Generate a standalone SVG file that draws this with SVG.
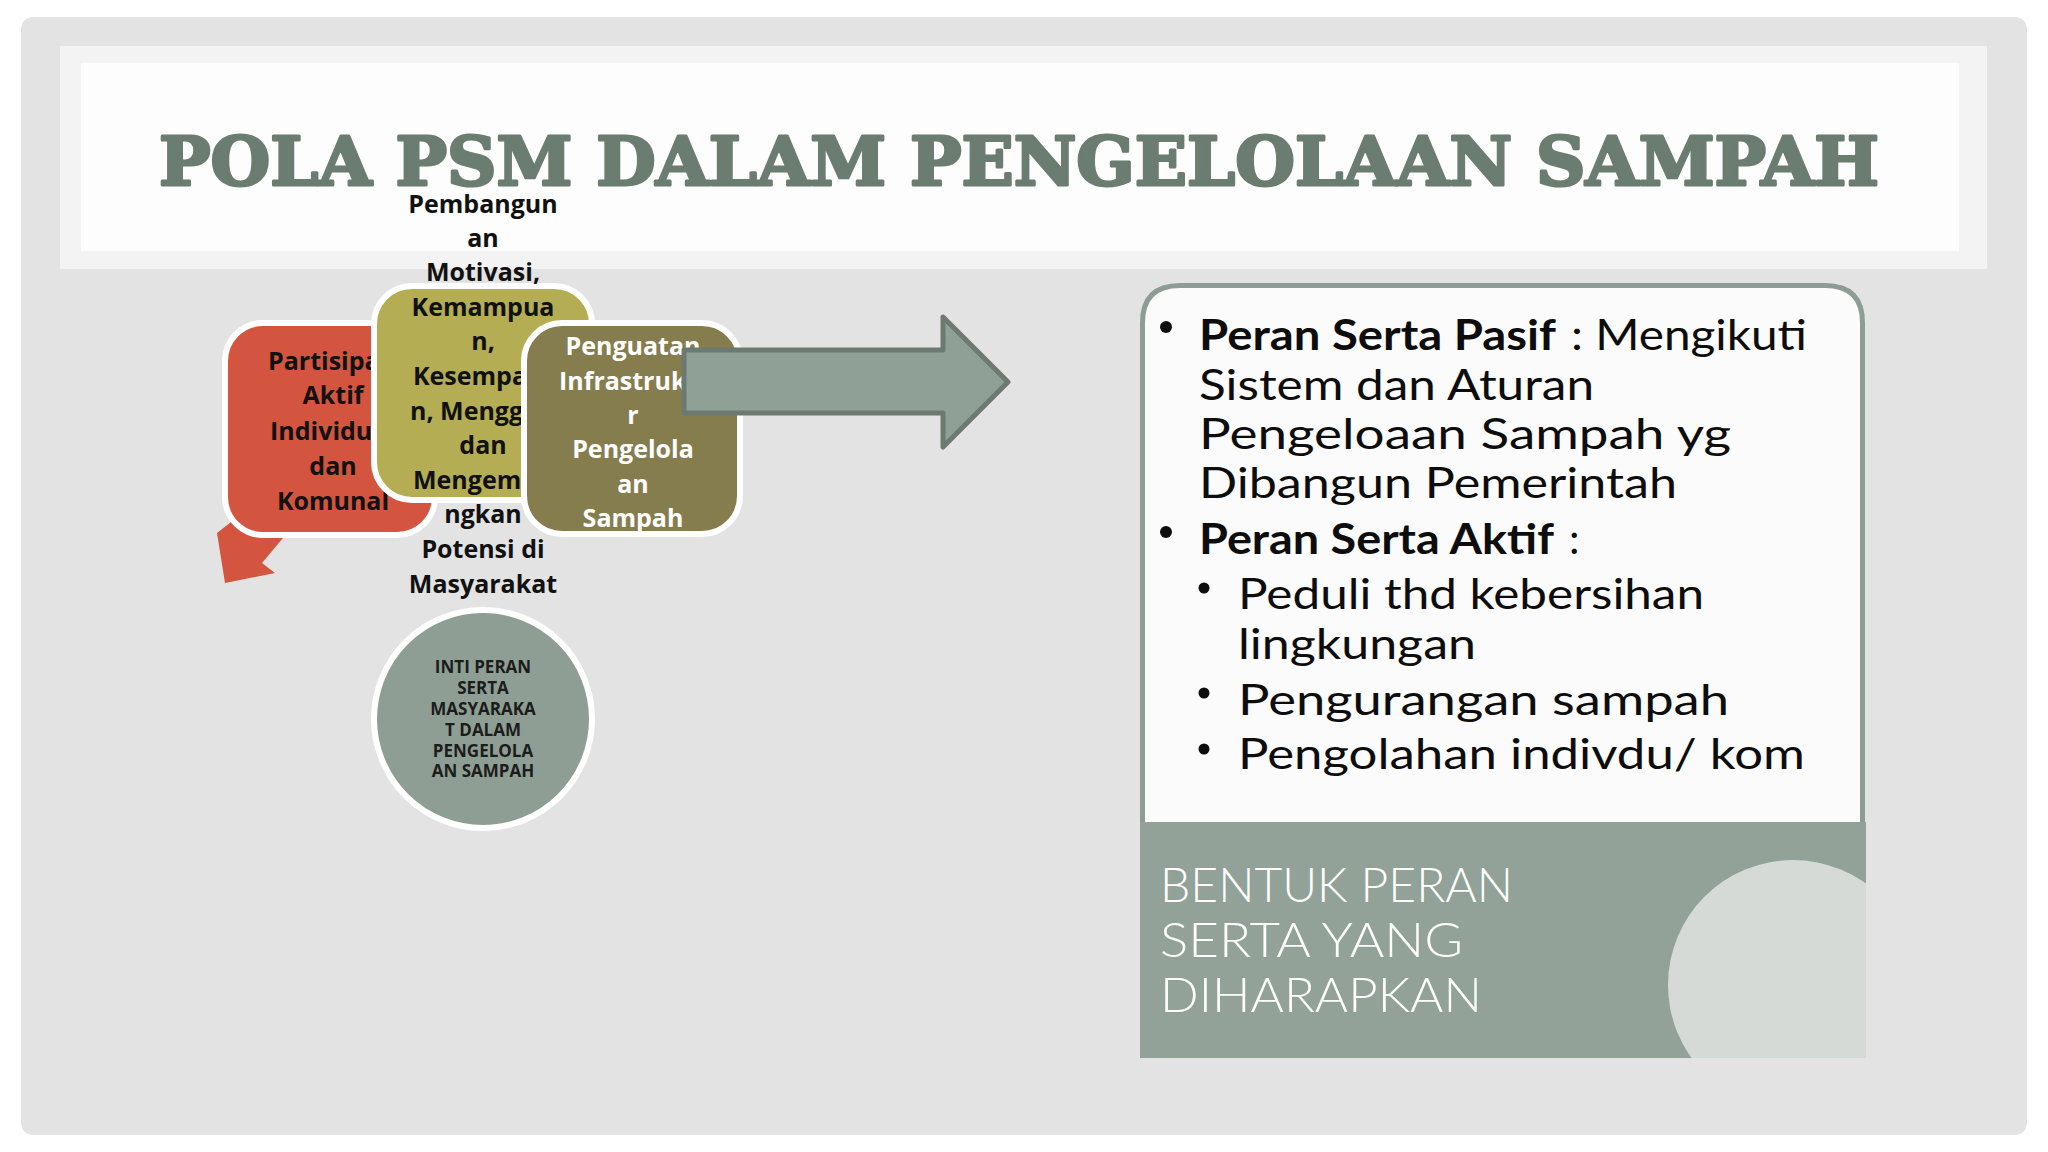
<svg xmlns="http://www.w3.org/2000/svg" width="2048" height="1152" viewBox="0 0 2048 1152">
  <style>
    .box { stroke: #ffffff; stroke-width: 6; }
    .lbl { font-family: "Open Sans", "Noto Sans", sans-serif; font-weight: 700; font-size: 25px; }
    .dark { fill: #111111; }
    .light { fill: #ffffff; }
    .circ { font-family: "Open Sans", "Noto Sans", sans-serif; font-weight: 700; font-size: 17px; fill: #1c1c1c; text-anchor: middle; }
    .body { font-family: "Lato", "Noto Sans", sans-serif; font-size: 42px; fill: #0d0d0d; }
    .bold { font-weight: 700; }
    .band { font-family: "Lato", "Noto Sans", sans-serif; font-weight: 300; font-size: 48px; fill: #ffffff; }
  </style>
  <defs>
    <mask id="redMask" maskUnits="userSpaceOnUse" x="0" y="0" width="2048" height="1152">
      <rect x="0" y="0" width="2048" height="1152" fill="#fff"/>
      <rect x="222" y="320" width="216" height="218" rx="41" fill="#000"/>
    </mask>
    <clipPath id="bandClip">
      <rect x="1140" y="822" width="726" height="236"/>
    </clipPath>
  </defs>

  <!-- background -->
  <rect x="0" y="0" width="2048" height="1152" fill="#ffffff"/>
  <rect x="21" y="17" width="2006" height="1118" rx="12" fill="#e3e3e3"/>
  <g id="header">
    <rect x="60" y="46" width="1927" height="223" fill="#f3f3f3"/>
    <rect x="81" y="63" width="1878" height="188" fill="#fdfdfd"/>
    <text x="159" y="185" font-family="'DejaVu Serif', 'Liberation Serif', serif" font-weight="700" font-size="68" fill="#6b7c71" stroke="#6b7c71" stroke-width="3" stroke-linejoin="round" textLength="1720" lengthAdjust="spacingAndGlyphs">POLA PSM DALAM PENGELOLAAN SAMPAH</text>
  </g>

  <g id="node-partisipasi">
    <rect class="box" x="225" y="323" width="210" height="212" rx="38" fill="#d3543f"/>
    <text class="lbl dark" x="268" y="370">Partisipa</text>
    <text class="lbl dark" x="333" y="404" text-anchor="middle">Aktif</text>
    <text class="lbl dark" x="270" y="440">Individu</text>
    <text class="lbl dark" x="333" y="475" text-anchor="middle">dan</text>
    <text class="lbl dark" x="333" y="510" text-anchor="middle">Komunal</text>
  </g>

  <g id="node-pembangunan">
    <rect class="box" x="374" y="286" width="218" height="214" rx="38" fill="#b4ad53"/>
    <g class="lbl dark" text-anchor="middle">
      <text x="483" y="213">Pembangun</text>
      <text x="483" y="247">an</text>
      <text x="483" y="281">Motivasi,</text>
      <text x="483" y="316">Kemampua</text>
      <text x="483" y="350">n,</text>
      <text x="483" y="454">dan</text>
      <text x="483" y="523">ngkan</text>
      <text x="483" y="558">Potensi di</text>
      <text x="483" y="593">Masyarakat</text>
    </g>
    <text class="lbl dark" x="413" y="385">Kesempa</text>
    <text class="lbl dark" x="410" y="420">n, Mengg</text>
    <text class="lbl dark" x="413" y="489">Mengem</text>
  </g>

  <g id="node-penguatan">
    <rect class="box" x="524" y="323" width="216" height="211" rx="38" fill="#867d4f"/>
    <g class="lbl light" text-anchor="middle">
      <text x="633" y="355">Penguatan</text>
      <text x="633" y="424">r</text>
      <text x="633" y="458">Pengelola</text>
      <text x="633" y="493">an</text>
      <text x="633" y="527">Sampah</text>
    </g>
    <text class="lbl light" x="559" y="390">Infrastruk</text>
  </g>

  <g id="node-inti">
    <circle cx="483" cy="719" r="109" fill="#8f9e95" stroke="#ffffff" stroke-width="6"/>
    <text class="circ" x="483" y="673">INTI PERAN</text>
    <text class="circ" x="483" y="694">SERTA</text>
    <text class="circ" x="483" y="715">MASYARAKA</text>
    <text class="circ" x="483" y="736">T DALAM</text>
    <text class="circ" x="483" y="757">PENGELOLA</text>
    <text class="circ" x="483" y="777">AN SAMPAH</text>
  </g>

  <g id="node-bentuk">
    <path d="M1142.5,1058 V323 Q1142.5,285.5 1180,285.5 H1825 Q1862.5,285.5 1862.5,323 V1058" fill="#fbfbfb" stroke="#8d9c94" stroke-width="5"/>
    <rect x="1140" y="822" width="726" height="236" fill="#92a298"/>
    <circle cx="1793" cy="985" r="125" fill="#d5dad7" clip-path="url(#bandClip)"/>
    <circle cx="1166" cy="327" r="6" fill="#0d0d0d"/>
    <text class="body bold" x="1199" y="350" textLength="357" lengthAdjust="spacingAndGlyphs">Peran Serta Pasif</text>
    <text class="body" x="1571" y="350" textLength="236" lengthAdjust="spacingAndGlyphs">: Mengikuti</text>
    <text class="body" x="1199" y="400" textLength="395" lengthAdjust="spacingAndGlyphs">Sistem dan Aturan</text>
    <text class="body" x="1199" y="449" textLength="532" lengthAdjust="spacingAndGlyphs">Pengeloaan Sampah yg</text>
    <text class="body" x="1199" y="498" textLength="478" lengthAdjust="spacingAndGlyphs">Dibangun Pemerintah</text>
    <circle cx="1166" cy="532" r="6" fill="#0d0d0d"/>
    <text class="body bold" x="1199" y="554" textLength="355" lengthAdjust="spacingAndGlyphs">Peran Serta Aktif</text>
    <text class="body" x="1569" y="554"> :</text>
    <circle cx="1204" cy="588" r="5.5" fill="#0d0d0d"/>
    <text class="body" x="1238" y="609" textLength="466" lengthAdjust="spacingAndGlyphs">Peduli thd kebersihan</text>
    <text class="body" x="1238" y="659" textLength="238" lengthAdjust="spacingAndGlyphs">lingkungan</text>
    <circle cx="1204" cy="693" r="5.5" fill="#0d0d0d"/>
    <text class="body" x="1238" y="715" textLength="491" lengthAdjust="spacingAndGlyphs">Pengurangan sampah</text>
    <circle cx="1204" cy="749" r="5.5" fill="#0d0d0d"/>
    <text class="body" x="1238" y="769" textLength="567" lengthAdjust="spacingAndGlyphs">Pengolahan indivdu/ kom</text>
    <text class="band" x="1160" y="902" textLength="353" lengthAdjust="spacingAndGlyphs">BENTUK PERAN</text>
    <text class="band" x="1160" y="957" textLength="303" lengthAdjust="spacingAndGlyphs">SERTA YANG</text>
    <text class="band" x="1160" y="1012" textLength="322" lengthAdjust="spacingAndGlyphs">DIHARAPKAN</text>
  </g>

  <g id="connectors">
    <polygon points="217,533 225,583 275,573 262,563 288,532 240,515" fill="#d3543f" mask="url(#redMask)"/>
    <polygon points="684,350 943,350 943,317 1008,382 943,447 943,413 684,413" fill="#8fa096" stroke="#6c7a72" stroke-width="5" stroke-linejoin="round"/>
  </g>
</svg>
